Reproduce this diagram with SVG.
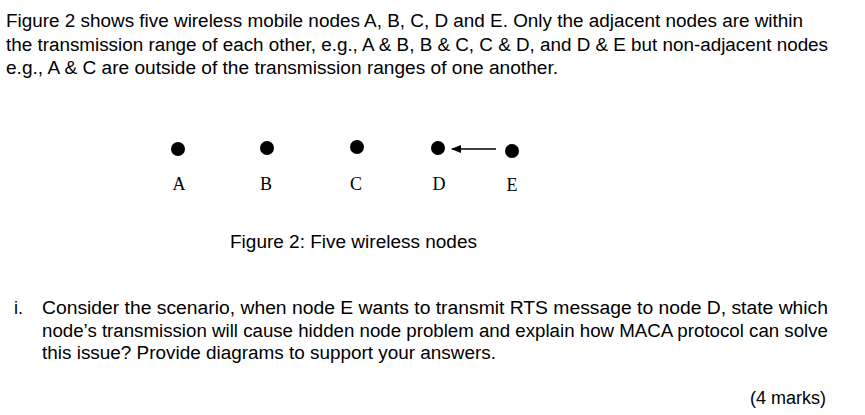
<svg xmlns="http://www.w3.org/2000/svg" width="865" height="415" viewBox="0 0 865 415">
<defs><marker id="ah" markerWidth="10" markerHeight="8" refX="9" refY="4" orient="auto" markerUnits="userSpaceOnUse"><path d="M0,0 L10,4 L0,8 Z" fill="#000"/></marker></defs>
<style>.t{font-family:"Liberation Sans",Arial,sans-serif;font-size:18px;fill:#000}.l{font-family:"Liberation Serif","Times New Roman",serif;font-size:18px;fill:#000;text-anchor:middle}</style>
<rect width="865" height="415" fill="#fff"/>
<text class="t" x="6" y="27" textLength="797" lengthAdjust="spacingAndGlyphs">Figure 2 shows five wireless mobile nodes A, B, C, D and E. Only the adjacent nodes are within</text>
<text class="t" x="6" y="51" textLength="822" lengthAdjust="spacingAndGlyphs">the transmission range of each other, e.g., A &amp; B, B &amp; C, C &amp; D, and D &amp; E but non-adjacent nodes</text>
<text class="t" x="6" y="74" textLength="552" lengthAdjust="spacingAndGlyphs">e.g., A &amp; C are outside of the transmission ranges of one another.</text>
<g id="A"><circle cx="178" cy="149" r="7"/><text class="l" x="179" y="190">A</text></g>
<g id="B"><circle cx="267" cy="148" r="7"/><text class="l" x="266" y="190">B</text></g>
<g id="C"><circle cx="357" cy="147" r="7"/><text class="l" x="356" y="190">C</text></g>
<g id="D"><circle cx="438" cy="148" r="7"/><text class="l" x="439" y="190">D</text></g>
<g id="E"><circle cx="512" cy="151" r="7"/><text class="l" x="512" y="191">E</text></g>
<g id="connectors"><line x1="496" y1="149" x2="452" y2="149" stroke="#000" stroke-width="1.5" marker-end="url(#ah)"/></g>
<text class="t" x="230" y="248" textLength="247" lengthAdjust="spacingAndGlyphs">Figure 2: Five wireless nodes</text>
<text class="t" x="14" y="314">i.</text>
<text class="t" x="42" y="314" textLength="786" lengthAdjust="spacingAndGlyphs">Consider the scenario, when node E wants to transmit RTS message to node D, state which</text>
<text class="t" x="42" y="337" textLength="786" lengthAdjust="spacingAndGlyphs">node’s transmission will cause hidden node problem and explain how MACA protocol can solve</text>
<text class="t" x="42" y="359" textLength="454" lengthAdjust="spacingAndGlyphs">this issue? Provide diagrams to support your answers.</text>
<text class="t" x="826" y="404" text-anchor="end">(4 marks)</text>
</svg>
